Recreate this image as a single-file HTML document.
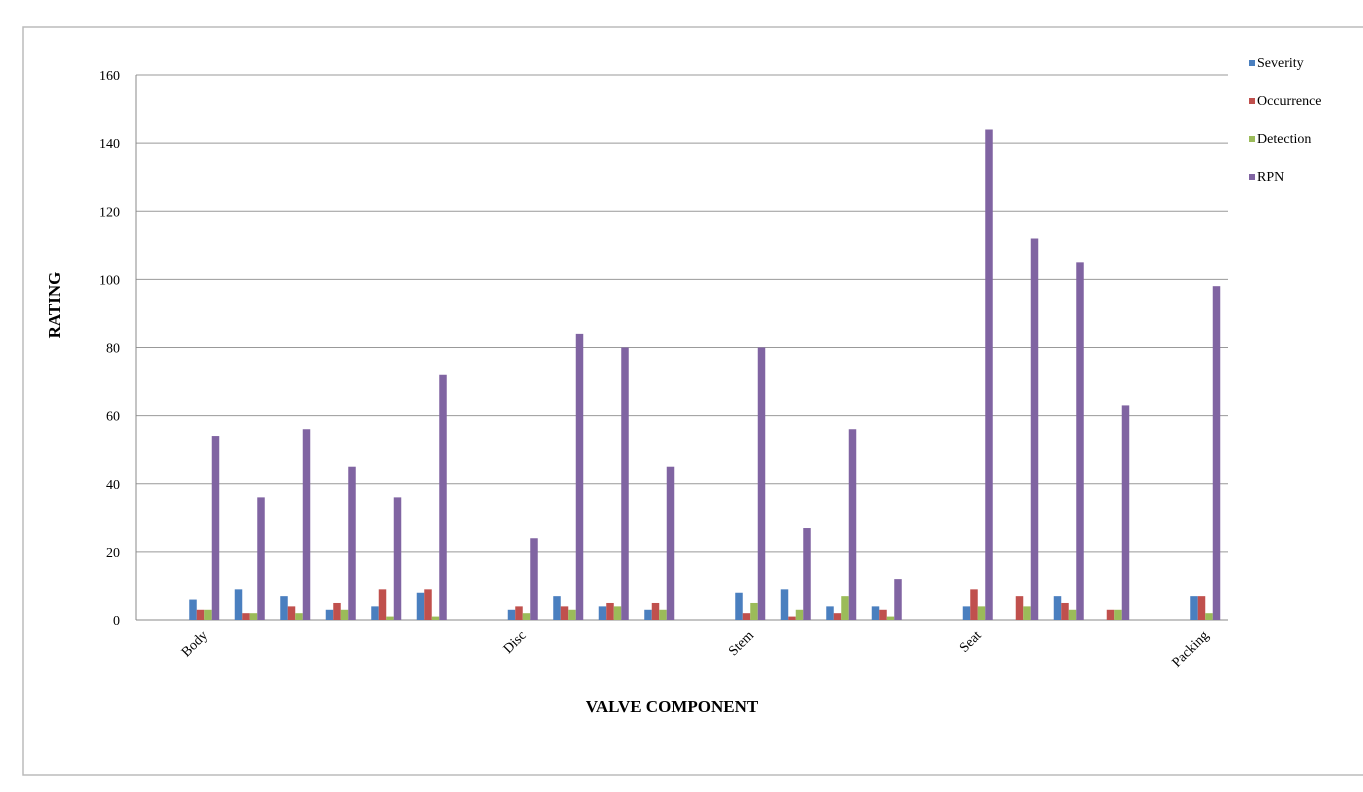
<!DOCTYPE html>
<html><head><meta charset="utf-8"><style>
body{margin:0;background:#fff;width:1363px;height:787px;overflow:hidden;font-family:"Liberation Serif",serif}
</style></head><body>
<svg width="1363" height="787" font-family="Liberation Serif, serif">
<rect x="23" y="27" width="1345" height="748" fill="#fff" stroke="#bbb" stroke-width="1.5"/>
<g id="grid"></g><g id="bars"></g><g id="labels"></g>
<text x="672" y="712" font-size="17" font-weight="bold" text-anchor="middle">VALVE COMPONENT</text>
<text transform="translate(60,305) rotate(-90)" font-size="17" font-weight="bold" text-anchor="middle">RATING</text>
<g id="legend"></g>
</svg>
<script>
const categories=["","Body","","","","","","","Disc","","","","","Stem","","","","","Seat","","","","","Packing"];
const severity=[0,6,9,7,3,4,8,0,3,7,4,3,0,8,9,4,4,0,4,0,7,0,0,7];
const occurrence=[0,3,2,4,5,9,9,0,4,4,5,5,0,2,1,2,3,0,9,7,5,3,0,7];
const detection=[0,3,2,2,3,1,1,0,2,3,4,3,0,5,3,7,1,0,4,4,3,3,0,2];
const rpn=[0,54,36,56,45,36,72,0,24,84,80,45,0,80,27,56,12,0,144,112,105,63,0,98];
const yTicks=[0,20,40,60,80,100,120,140,160];
const seriesNames=["Severity","Occurrence","Detection","RPN"];
const colors=["#4a7fbf","#c0504d","#9bbb59","#8064a2"];
const NS="http://www.w3.org/2000/svg";
const X0=136,X1=1228,Y0=620,Y1=75,YMAX=160;
const y=v=>Y0-(v/YMAX)*(Y0-Y1);
const cw=(X1-X0)/categories.length;
const xc=i=>X0+cw*(i+0.5);
function mk(t,a,p){const e=document.createElementNS(NS,t);for(const k in a)e.setAttribute(k,a[k]);p.appendChild(e);return e;}
const grid=document.getElementById('grid');
yTicks.forEach(t=>{
  const l=mk('line',{x1:X0,x2:X1,y1:y(t),y2:y(t),stroke:t===0?'#888':'#999','stroke-width':1},grid);
  
  
  const tx=mk('text',{x:X0-16,y:y(t)+5,'font-size':14,'text-anchor':'end'},grid);
  tx.textContent=t;
  
  
});
const ax=mk('line',{x1:X0,x2:X0,y1:Y1,y2:Y0,stroke:'#888'},grid);


const series=[severity,occurrence,detection,rpn];
const bw=7.5,bg=document.getElementById('bars');
categories.forEach((c,i)=>{
  series.forEach((s,k)=>{
    const v=s[i]; if(!v) return;
    const r=mk('rect',{x:xc(i)-2*bw+k*bw,y:y(v),width:bw,height:Y0-y(v),fill:colors[k]},bg);
    
    
  });
  if(c){
    const t=mk('text',{transform:`translate(${xc(i)+4},${Y0+16}) rotate(-45)`,'font-size':14,'text-anchor':'end'},document.getElementById('labels'));
    t.textContent=c;
    
    
  }
});
const lg=document.getElementById('legend');
seriesNames.forEach((n,k)=>{
  const yy=66+k*38;
  const r=mk('rect',{x:1249,y:yy-6,width:6,height:6,fill:colors[k]},lg);
  
  
  const t=mk('text',{x:1257,y:yy+1,'font-size':14},lg);
  t.textContent=n;
  
  
});
</script>
</body></html>
